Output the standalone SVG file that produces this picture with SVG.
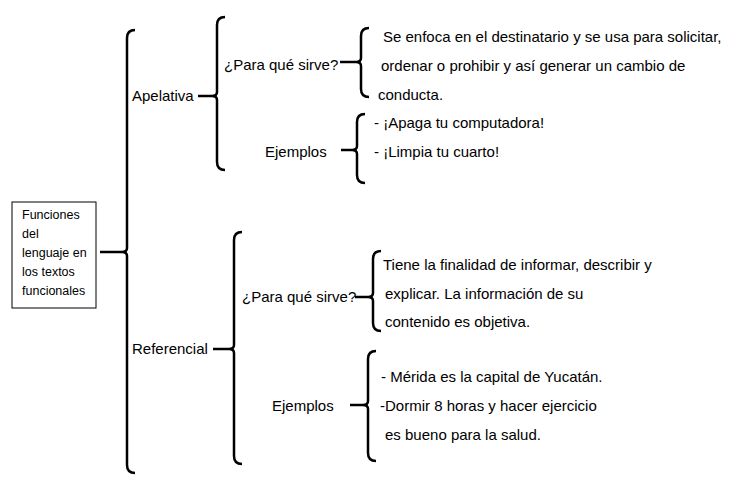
<svg xmlns="http://www.w3.org/2000/svg" width="736" height="485" viewBox="0 0 736 485">
<style>
text{font-family:"Liberation Sans",Arial,sans-serif;font-size:15px;fill:#000}
.s{font-size:12.5px}
.b{fill:none;stroke:#000;stroke-width:2.5}
</style>
<rect width="736" height="485" fill="#fff"/>
<g id="root"><rect x="12" y="202" width="84" height="106" fill="#fff" stroke="#000" stroke-width="1"/>
<text class="s" x="22" y="219">Funciones</text><text class="s" x="22" y="238">del</text><text class="s" x="22" y="257">lenguaje en</text><text class="s" x="22" y="276">los textos</text><text class="s" x="22" y="295">funcionales</text></g>
<g id="connectors">
<path class="b" d="M135,30 Q127,30 127,38 L127,248 Q127,252 122,252 Q127,252 127,256 L127,465 Q127,473 135,473 M100,252 L122,252"/>
<path class="b" d="M225,17 Q217,17 217,25 L217,92 Q217,96 212,96 Q217,96 217,100 L217,162 Q217,170 225,170 M198,96 L212,96"/>
<path class="b" d="M369,28 Q361,28 361,36 L361,58 Q361,62 356,62 Q361,62 361,66 L361,89 Q361,97 369,97 M340,62 L356,62"/>
<path class="b" d="M365,114 Q357,114 357,122 L357,146 Q357,150 352,150 Q357,150 357,154 L357,175 Q357,183 365,183 M341,150 L352,150"/>
<path class="b" d="M242,232 Q234,232 234,240 L234,345 Q234,349 229,349 Q234,349 234,353 L234,456 Q234,464 242,464 M213,349 L229,349"/>
<path class="b" d="M381,251 Q373,251 373,259 L373,293 Q373,297 368,297 Q373,297 373,301 L373,323 Q373,331 381,331 M355,297 L368,297"/>
<path class="b" d="M376,351 Q368,351 368,359 L368,401 Q368,405 363,405 Q368,405 368,409 L368,453 Q368,461 376,461 M350,405 L363,405"/>
</g>
<g id="apelativa"><text x="132" y="101">Apelativa</text></g>
<g id="ap-sirve"><text x="224" y="70">¿Para qué sirve?</text></g>
<g id="ap-desc"><text x="383" y="42">Se enfoca en el destinatario y se usa para solicitar,</text><text x="381" y="71">ordenar o prohibir y así generar un cambio de</text><text x="378" y="100">conducta.</text></g>
<g id="ap-ej"><text x="265" y="157">Ejemplos</text></g>
<g id="ap-ej-list"><text x="374" y="128">- ¡Apaga tu computadora!</text><text x="374" y="157">- ¡Limpia tu cuarto!</text></g>
<g id="referencial"><text x="132" y="354">Referencial</text></g>
<g id="ref-sirve"><text x="242" y="302">¿Para qué sirve?</text></g>
<g id="ref-desc"><text x="383" y="270">Tiene la finalidad de informar, describir y</text><text x="385" y="299">explicar. La información de su</text><text x="385" y="327">contenido es objetiva.</text></g>
<g id="ref-ej"><text x="272" y="411">Ejemplos</text></g>
<g id="ref-ej-list"><text x="381" y="382">- Mérida es la capital de Yucatán.</text><text x="380" y="411">-Dormir 8 horas y hacer ejercicio</text><text x="385" y="440">es bueno para la salud.</text></g>
</svg>
